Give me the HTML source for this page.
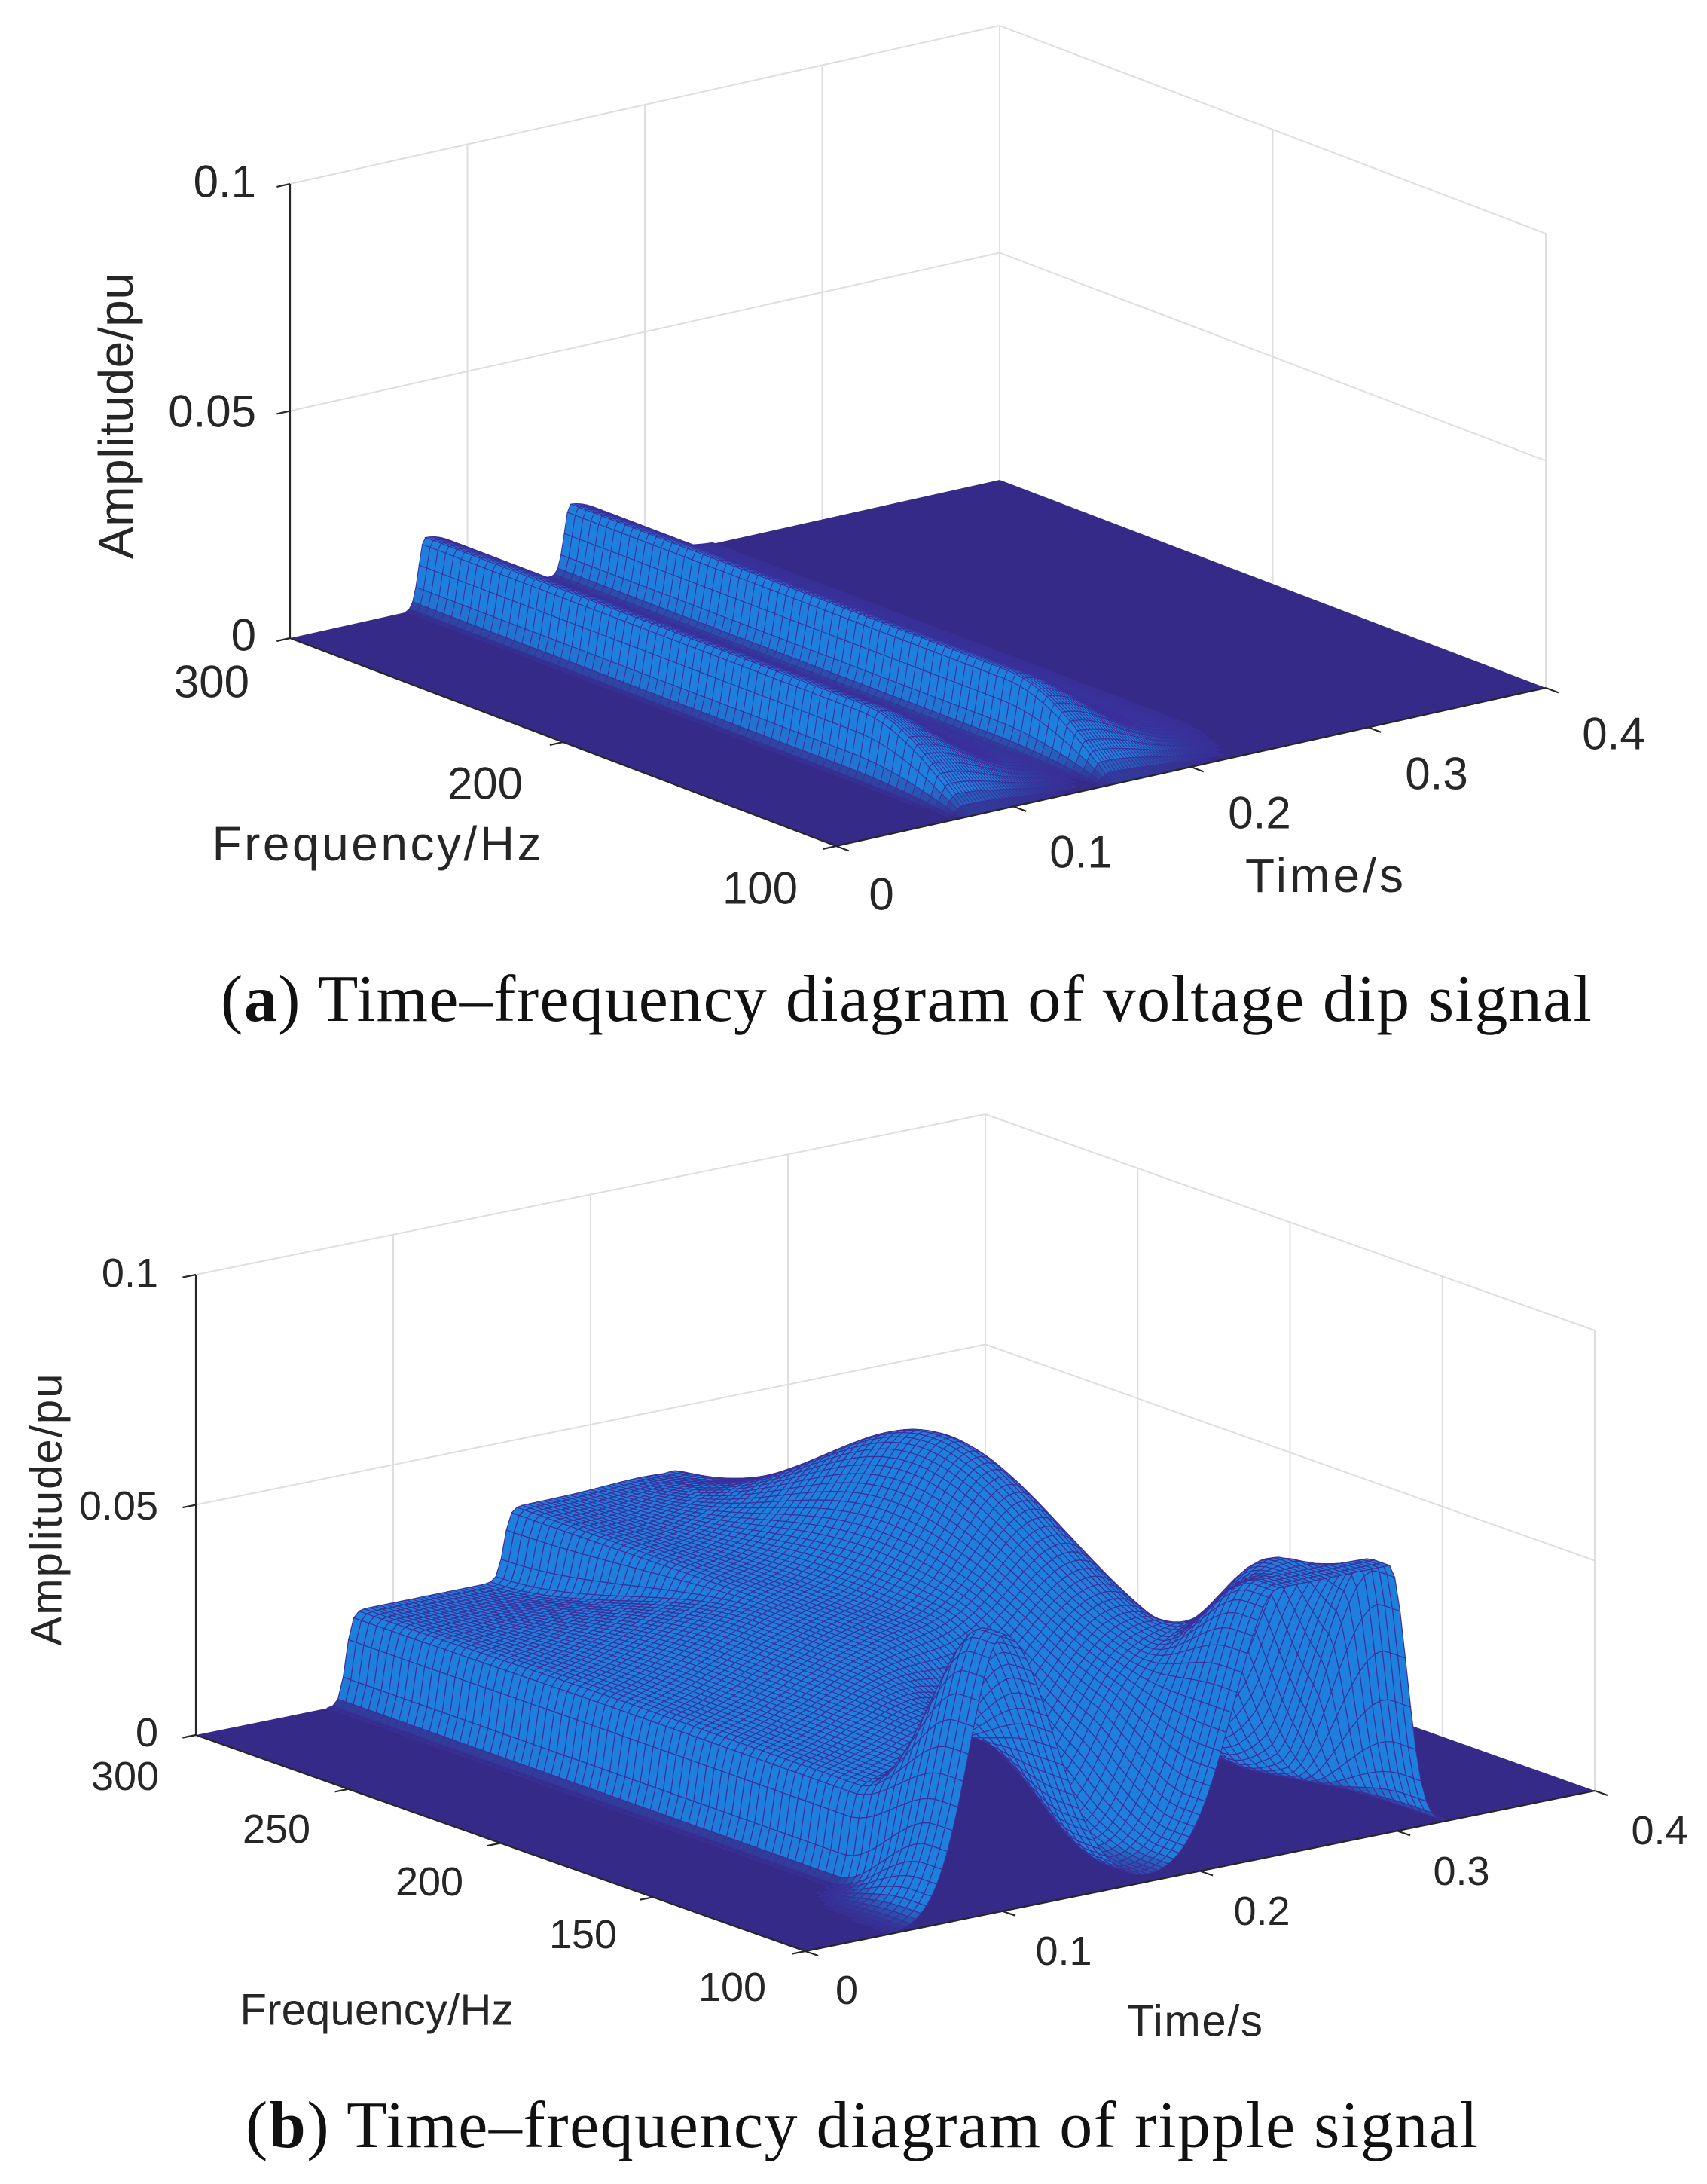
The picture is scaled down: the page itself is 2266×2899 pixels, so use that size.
<!DOCTYPE html>
<html><head><meta charset="utf-8">
<style>
html,body{margin:0;padding:0;background:#fff;}
svg{display:block;}
.t{font-family:"Liberation Sans",Arial,sans-serif;fill:#262626;}
.c{font-family:"Liberation Serif","Times New Roman",serif;fill:#111;}
</style></head>
<body>
<svg id="s" width="2266" height="2899" viewBox="0 0 2266 2899" xmlns="http://www.w3.org/2000/svg">
<rect width="2266" height="2899" fill="#fff"/>
<g id="ga"></g>
<g id="gb"></g>
<g class="t" font-size="60" dominant-baseline="central">
<text x="340" y="241" text-anchor="end">0.1</text>
<text x="340" y="546" text-anchor="end">0.05</text>
<text x="340" y="843" text-anchor="end">0</text>
<text x="281" y="905" text-anchor="middle">300</text>
<text x="644" y="1040" text-anchor="middle">200</text>
<text x="1009" y="1179" text-anchor="middle">100</text>
<text x="500" y="1120" text-anchor="middle" font-size="64" textLength="437">Frequency/Hz</text>
<text x="1170" y="1187" text-anchor="middle">0</text>
<text x="1435" y="1131" text-anchor="middle">0.1</text>
<text x="1672" y="1079" text-anchor="middle">0.2</text>
<text x="1907" y="1027" text-anchor="middle">0.3</text>
<text x="2142" y="974" text-anchor="middle">0.4</text>
<text x="1758" y="1162" text-anchor="middle" font-size="64" textLength="210">Time/s</text>
<text x="0" y="0" text-anchor="middle" font-size="64" transform="translate(154,552) rotate(-90)" textLength="380">Amplitude/pu</text>
</g>
<g class="t" font-size="54" dominant-baseline="central">
<text x="210" y="1690" text-anchor="end">0.1</text>
<text x="210" y="1999" text-anchor="end">0.05</text>
<text x="210" y="2300" text-anchor="end">0</text>
<text x="166" y="2358" text-anchor="middle">300</text>
<text x="367" y="2428" text-anchor="middle">250</text>
<text x="570" y="2498" text-anchor="middle">200</text>
<text x="774" y="2568" text-anchor="middle">150</text>
<text x="972" y="2638" text-anchor="middle">100</text>
<text x="500" y="2668" text-anchor="middle" font-size="58" textLength="363">Frequency/Hz</text>
<text x="1124" y="2642" text-anchor="middle">0</text>
<text x="1412" y="2590" text-anchor="middle">0.1</text>
<text x="1675" y="2537" text-anchor="middle">0.2</text>
<text x="1940" y="2484" text-anchor="middle">0.3</text>
<text x="2203" y="2430" text-anchor="middle">0.4</text>
<text x="1586" y="2683" text-anchor="middle" font-size="58" textLength="180">Time/s</text>
<text x="0" y="0" text-anchor="middle" font-size="58" transform="translate(62,2004) rotate(-90)" textLength="361">Amplitude/pu</text>
</g>
<text class="c" x="1203" y="1355" font-size="88" text-anchor="middle" textLength="1820">(<tspan font-weight="bold">a</tspan>) Time–frequency diagram of voltage dip signal</text>
<text class="c" x="1144" y="2850" font-size="88" text-anchor="middle" textLength="1636">(<tspan font-weight="bold">b</tspan>) Time–frequency diagram of ripple signal</text>
</svg>
<script>
(function(){
function sig(x){return 1/(1+Math.exp(-x));}
function sm(a,b,x){var t=Math.min(1,Math.max(0,(x-a)/(b-a)));return t*t*(3-2*t);}
function mix(a,b,k){return 'rgb('+[0,1,2].map(function(i){return Math.round(a[i]+(b[i]-a[i])*k);}).join(',')+')';}
var NAVY=[53,42,135], BLUE=[30,128,220];
function build(gid,O,F,T,Z,zf,nu,ns,sv,skw){
  function P(u,s,z){return [O[0]+F[0]*s+T[0]*u, O[1]+F[1]*s+T[1]*u-Z*z*10];}
  var h='';
  function ln(a,b,c,w){h+='<line x1="'+a[0].toFixed(1)+'" y1="'+a[1].toFixed(1)+'" x2="'+b[0].toFixed(1)+'" y2="'+b[1].toFixed(1)+'" stroke="'+c+'" stroke-width="'+w+'"/>';}
  var G='#dedede';
  [0.05,0.1].forEach(function(z){ln(P(0,0,z),P(1,0,z),G,2);});
  [0.25,0.5,0.75,1].forEach(function(u){ln(P(u,0,0),P(u,0,0.1),G,2);});
  [0.05,0.1].forEach(function(z){ln(P(1,0,z),P(1,1,z),G,2);});
  sv.forEach(function(s){ln(P(1,s,0),P(1,s,0.1),G,2);});
  ln(P(1,1,0),P(1,1,0.1),G,2);
  [0.25,0.5,0.75].forEach(function(u){ln(P(u,0,0),P(u,1,0),G,2);});
  sv.forEach(function(s){ln(P(0,s,0),P(1,s,0),G,2);});
  var a=P(0,0,0),b=P(1,0,0),c=P(1,1,0),d=P(0,1,0);
  h+='<polygon points="'+[a,b,c,d].map(function(p){return p[0].toFixed(1)+','+p[1].toFixed(1);}).join(' ')+'" fill="#352a87"/>';
  var zz=[];
  for(var i=0;i<=nu;i++){zz[i]=[];for(var j=0;j<=ns;j++){zz[i][j]=zf(i/nu,j/ns);}}
  var q=[];
  for(var i=0;i<nu;i++)for(var j=0;j<ns;j++){
    var m=Math.max(zz[i][j],zz[i+1][j],zz[i][j+1],zz[i+1][j+1]);
    if(m<0.0003)continue;
    var u=(i+0.5)/nu,s=(j+0.5)/ns;
    q.push([F[1]*s+T[1]*u,i,j]);
  }
  q.sort(function(x,y){return x[0]-y[0];});
  q.forEach(function(e){
    var i=e[1],j=e[2];
    var p1=P(i/nu,j/ns,zz[i][j]),p2=P((i+1)/nu,j/ns,zz[i+1][j]),p3=P((i+1)/nu,(j+1)/ns,zz[i+1][j+1]),p4=P(i/nu,(j+1)/ns,zz[i][j+1]);
    var av=(zz[i][j]+zz[i+1][j]+zz[i][j+1]+zz[i+1][j+1])/4;
    var k=Math.min(1,av/0.004);
    h+='<polygon points="'+[p1,p2,p3,p4].map(function(p){return p[0].toFixed(1)+','+p[1].toFixed(1);}).join(' ')+'" fill="'+mix(NAVY,BLUE,k)+'" stroke="#3b2f9c" stroke-width="'+skw+'"/>';
  });
  var K='#262626';
  ln(P(0,0,0),P(0,0,0.1),K,2.2);
  ln(P(0,0,0),P(0,1,0),K,2.2);
  ln(P(0,1,0),P(1,1,0),K,2.2);
  var tl=Math.hypot(T[0],T[1]),fl=Math.hypot(F[0],F[1]);
  var tdx=-T[0]/tl*18,tdy=-T[1]/tl*18,fdx=F[0]/fl*18,fdy=F[1]/fl*18;
  [0,0.05,0.1].forEach(function(z){var p=P(0,0,z);ln(p,[p[0]+tdx,p[1]+tdy],K,2.2);});
  sv.concat([0,1]).forEach(function(s){var p=P(0,s,0);ln(p,[p[0]+tdx,p[1]+tdy],K,2.2);});
  [0,0.25,0.5,0.75,1].forEach(function(u){var p=P(u,1,0);ln(p,[p[0]+fdx,p[1]+fdy],K,2.2);});
  document.getElementById(gid).innerHTML=h;
}
function za(u,s){
  function r(u0,A){var d=u-u0;return A*(d<0?Math.exp(-Math.pow(d/0.012,2)):Math.exp(-Math.pow(d/0.1,2)));}
  var amp=s<0.8?1:Math.max(0,Math.cos((s-0.8)/0.2*Math.PI/2));
  return (r(0.19,0.0155)+r(0.395,0.0155))*amp;
}
build('ga',[385,847],[725,276],[942,-210],603,za,220,70,[0.5],1);
function zb(u,s){
  var on=sig((u-0.19)/0.004);
  var a=sm(0.0,0.45,s);
  function mstep(c){return (1-a)*sig((u-c)/0.004)+a*sm(c-0.22,c+0.05,u);}
  var level=0.02+0.0155*mstep(0.39)+0.001*mstep(0.6);
  var off=sig((0.68-u)/0.022);
  var hump=0.03*Math.exp(-Math.pow((u-0.6)/0.09,2)-Math.pow((s-0.45)/0.25,2));
  var main=on*(level*off+hump);
  var h2=0.04*Math.exp(-Math.pow((u-0.68)/0.06,2))*sm(0.75,0.95,s)*sig((0.8-u)/0.01);
  main+=h2;
  var valley=1-0.8*Math.exp(-Math.pow((u-0.44)/0.07,2))*sm(0.6,0.9,s);
  main*=valley;
  var w=sm(0.82,0.97,s);
  var d1=u-0.25;
  var fr=0.06*(d1<0?Math.exp(-Math.pow(d1/0.06,2)):Math.exp(-Math.pow(d1/0.09,2)));
  var d2=u<0.6?(u-0.6):(u>0.74?(u-0.74):0);
  fr+=0.058*Math.exp(-Math.pow(d2/(u<0.6?0.08:0.03),2));
  return (1-w)*main+w*fr;
}
build('gb',[260,2303],[809,287],[1048,-213],611,zb,150,80,[0.25,0.5,0.75],1.2);
})();
</script>
</body></html>
